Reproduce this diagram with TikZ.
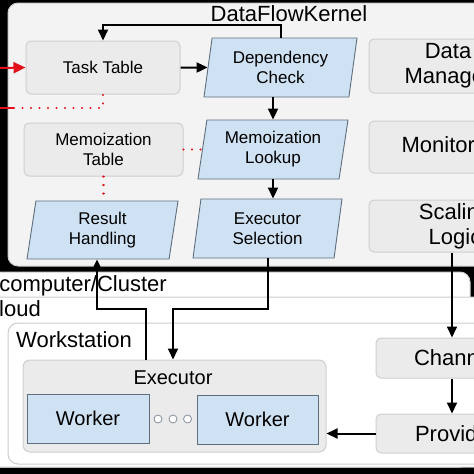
\documentclass[tikz,border=0pt]{standalone}
\usepackage{fontspec}
\setmainfont{Liberation Sans}
\usetikzlibrary{shapes.geometric,arrows.meta}
\definecolor{boxfill}{HTML}{EBEBEB}
\definecolor{boxline}{HTML}{CFCFCF}
\definecolor{dfkfill}{HTML}{F3F3F3}
\definecolor{bluefill}{HTML}{CFE2F3}
\definecolor{blueline}{HTML}{5E6E7E}
\definecolor{myred}{HTML}{E3101A}
\definecolor{contline}{HTML}{CCCCCC}
\begin{document}
\begin{tikzpicture}[x=1pt,y=-1pt,
  gbox/.style={draw=boxline,fill=boxfill,line width=1pt,rounded corners=5pt,align=center,inner sep=0pt},
  small/.style={font=\fontsize{17}{20}\selectfont},
  big/.style={font=\fontsize{22}{25}\selectfont},
  pbox/.style={trapezium,trapezium left angle=76,trapezium right angle=104,trapezium stretches body,draw=blueline,fill=bluefill,line width=0.9pt,align=center,inner sep=0pt,minimum height=59pt,small},
  wbox/.style={draw=blueline,fill=bluefill,line width=1pt,inner sep=0pt,minimum width=122pt,minimum height=49pt,font=\fontsize{20}{24}\selectfont},
  dotc/.style={circle,draw=blueline!70,fill=white,line width=0.9pt,minimum size=8pt,inner sep=0pt},
  arr/.style={line width=2pt,-{Triangle[length=11pt,width=10pt]}},
  redarr/.style={myred,line width=2pt,-{Triangle[length=12pt,width=11pt]}},
  reddot/.style={myred,line width=2.2pt,line cap=round,dash pattern=on 0.1pt off 8.4pt},
]
\useasboundingbox (0,0) rectangle (474,474);
\clip (0,0) rectangle (474,474);
\fill[black] (0,0) rectangle (474,474);
% containers
\draw[draw=contline,fill=dfkfill,rounded corners=10pt,line width=1pt] (8,3) rectangle (540,266);
\draw[draw=contline,fill=white,rounded corners=10pt,line width=1pt] (-60,272) rectangle (470,467);
\draw[draw=contline,fill=white,rounded corners=10pt,line width=1pt] (-30,297) rectangle (540,467);
\draw[draw=contline,fill=white,rounded corners=10pt,line width=1pt] (8,323) rectangle (540,464);
% container labels
\node[big,anchor=base,inner sep=0pt] (dfkl) at (289,21) {DataFlowKernel};
\node[big,anchor=base east,inner sep=0pt] (scl) at (167,291) {Supercomputer/Cluster};
\node[big,anchor=base east,inner sep=0pt] (cll) at (41,316) {Cloud};
\node[big,anchor=base west,inner sep=0pt] (wsl) at (16,347) {Workstation};
% DFK nodes
\node[gbox,small,minimum width=154pt,minimum height=53pt] (tt) at (103,67.5) {Task Table};
\node[gbox,small,minimum width=159pt,minimum height=53pt] (mt) at (103.5,149.5) {Memoization\\Table};
\node[pbox,minimum width=151pt,minimum height=58pt] (rh) at (102.5,230) {Result\\Handling};
\node[pbox,minimum width=153pt] (dep) at (280.5,67.5) {Dependency\\Check};
\node[pbox,minimum width=150pt] (ml) at (273,149.5) {Memoization\\Lookup};
\node[pbox,minimum width=149pt] (es) at (267.5,228.5) {Executor\\Selection};
\node[gbox,big,minimum width=158pt,minimum height=54pt] (dm) at (448,66) {Data\\Manager};
\node[gbox,big,minimum width=168pt,minimum height=52pt] (mon) at (453,147) {Monitoring};
\node[gbox,big,minimum width=172pt,minimum height=52pt] (sl) at (455,226) {Scaling\\Logic};
% lower nodes
\node[gbox,big,minimum width=158pt,minimum height=40pt] (ch) at (455,358) {Channel};
\node[gbox,big,minimum width=160pt,minimum height=39pt] (pr) at (456,433.5) {Provider};
\node[gbox,rounded corners=7pt,minimum width=303pt,minimum height=92pt] (exe) at (174.5,406) {};
\node[font=\fontsize{20}{24}\selectfont,anchor=base,inner sep=0pt] (exel) at (173,384) {Executor};
\node[wbox] (w1) at (88,418.5) {Worker};
\node[wbox,minimum width=121pt] (w2) at (257.5,419.5) {Worker};
\node[dotc] (d1) at (158,419) {};
\node[dotc] (d2) at (173,419) {};
\node[dotc] (d3) at (187.5,419) {};
% connectors
\draw[arr] (tt.east) -- (dep.west);
\draw[arr] (dep.north) -- ++(0,-13) -| (tt.north);
\draw[arr] (dep.south -| ml.north) -- (ml.north);
\draw[arr] (ml.south) -- (ml.south |- es.north);
\coordinate (k1) at (97,309);
\coordinate (k2) at (146,309);
\coordinate (k3) at (173,309);
\draw[arr] (es.south) |- (k3) -- (k3 |- exe.north);
\draw[arr] (k2 |- exe.north) -- (k2) -- (k1) -- (k1 |- rh.south);
\coordinate (rc) at (452,0);
\draw[arr] (sl.south -| rc) -- (ch.north -| rc);
\draw[arr] (ch.south -| rc) -- (pr.north -| rc);
\draw[arr] (pr.west) -- (pr.west -| exe.east);
% red connectors
\coordinate (r1) at (0,68);
\draw[redarr] (r1) -- (tt.west);
\coordinate (r2) at (0,108);
\draw[myred,line width=2pt] (r2) -- ++(14,0) coordinate (r3);
\draw[reddot] (r3) -- (r3 -| tt.south) -- (tt.south);
\draw[reddot] (mt.east) -- (ml.west);
\draw[reddot] (mt.south) -- (mt.south |- rh.north);
\end{tikzpicture}
\end{document}
